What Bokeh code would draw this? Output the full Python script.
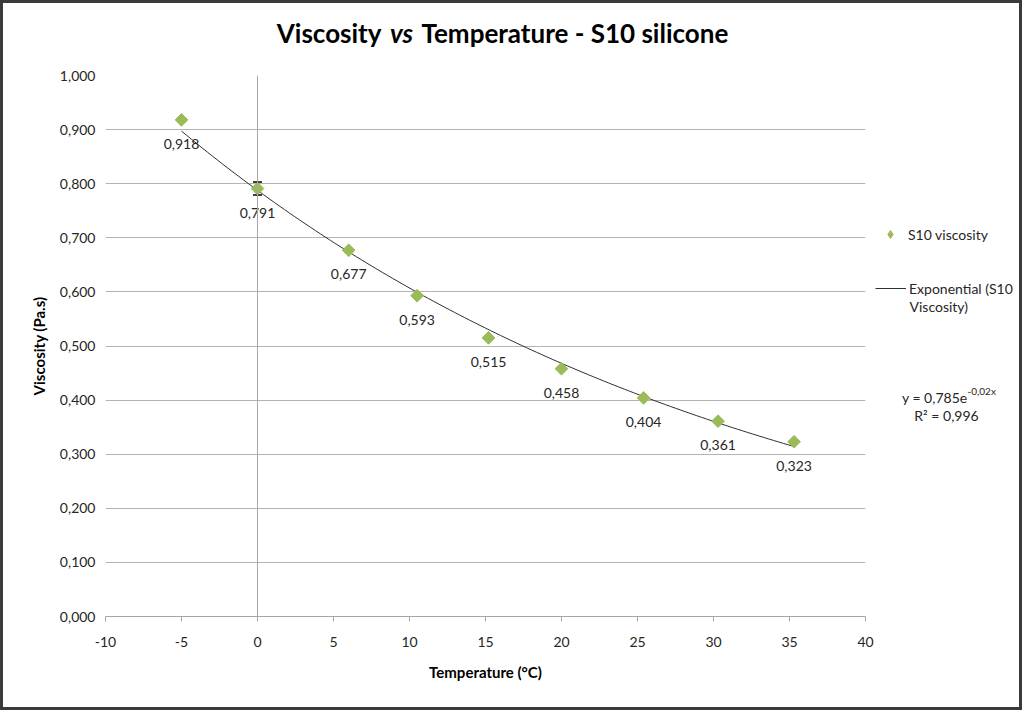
import numpy as np
from bokeh.plotting import figure
from bokeh.layouts import column, row
from bokeh.models import (Range1d, Span, Label, Legend, LegendItem, CustomJSTickFormatter,
                          FixedTicker, ColumnDataSource, Whisker, TeeHead)
from bokeh.embed import file_html
from bokeh.resources import INLINE
from bokeh.core.properties import value

# ---- data ----
temperature = [-5.0, 0.0, 6.0, 10.5, 15.2, 20.0, 25.4, 30.3, 35.3]
viscosity = [0.918, 0.791, 0.677, 0.593, 0.515, 0.458, 0.404, 0.361, 0.323]
point_labels = ["0,918", "0,791", "0,677", "0,593", "0,515", "0,458", "0,404", "0,361", "0,323"]
err_temperature = [0.0]
err_viscosity = [0.791]
err_size = [0.012]
x_ticks = [-10, -5, 0, 5, 10, 15, 20, 25, 30, 35, 40]
y_ticks = [0.0, 0.1, 0.2, 0.3, 0.4, 0.5, 0.6, 0.7, 0.8, 0.9, 1.0]

FONT = "Lato"
TXT = "#262626"
GREEN = "#9bbb59"

# exponential trend line (least squares on log values, like a spreadsheet trendline)
b, ln_a = np.polyfit(np.array(temperature), np.log(np.array(viscosity)), 1)
fit_x = np.linspace(min(temperature), max(temperature), 120)
fit_y = np.exp(ln_a) * np.exp(b * fit_x)


def blank_fig(w, h, xr, yr):
    f = figure(width=w, height=h, output_backend="svg", toolbar_location=None,
               x_range=Range1d(*xr), y_range=Range1d(*yr),
               x_axis_location=None, y_axis_location=None,
               min_border=0, min_border_left=0, min_border_right=0,
               min_border_top=0, min_border_bottom=0,
               background_fill_color="white", border_fill_color="white")
    f.grid.visible = False
    f.outline_line_color = None
    return f


# ---------------- title strip (page pixel coordinates) ----------------
TW, TH = 1016, 57
tfig = blank_fig(TW, TH, (3, 3 + TW), (3 + TH, 3))


def tlabel(text, x, y, align, style):
    tfig.add_layout(Label(x=x, y=y, text=text, text_align=align, text_baseline="middle",
                          text_font=FONT, text_font_size="26px", text_font_style=style,
                          text_color="black"))


tlabel("Viscosity", 381, 32, "right", "bold")
tlabel("vs", 401, 32, "center", "bold italic")
tlabel("Temperature - S10 silicone", 421, 32, "left", "bold")

# ---------------- main chart ----------------
MW, MH = 871, 647
p = figure(width=MW, height=MH, output_backend="svg", toolbar_location=None,
           x_range=Range1d(-10, 40), y_range=Range1d(0, 1),
           min_border_left=102, min_border_right=MW - 102 - 760,
           min_border_top=15, min_border_bottom=MH - 15 - 541,
           background_fill_color="white", border_fill_color="white")
p.outline_line_color = None

p.xgrid.grid_line_color = None
p.ygrid.grid_line_color = "#b4b4b4"
p.ygrid.ticker = FixedTicker(ticks=y_ticks)

p.xaxis.ticker = FixedTicker(ticks=x_ticks)
p.xaxis.formatter = CustomJSTickFormatter(code="return String(tick);")
p.xaxis.axis_line_color = "#a6a6a6"
p.xaxis.major_tick_line_color = "#a6a6a6"
p.xaxis.major_tick_out = 5
p.xaxis.major_tick_in = 0
p.xaxis.minor_tick_line_color = None
p.xaxis.major_label_text_font = FONT
p.xaxis.major_label_text_font_size = "14px"
p.xaxis.major_label_text_color = TXT
p.xaxis.major_label_standoff = 15
p.xaxis.axis_label = "Temperature (°C)"
p.xaxis.axis_label_text_font = FONT
p.xaxis.axis_label_text_font_size = "15px"
p.xaxis.axis_label_text_font_style = "bold"
p.xaxis.axis_label_text_color = "black"
p.xaxis.axis_label_standoff = 13

p.yaxis.ticker = FixedTicker(ticks=y_ticks)
p.yaxis.formatter = CustomJSTickFormatter(code="return tick.toFixed(3).replace('.', ',');")
p.yaxis.axis_line_color = None
p.yaxis.major_tick_line_color = None
p.yaxis.minor_tick_line_color = None
p.yaxis.major_tick_out = 0
p.yaxis.major_label_text_font = FONT
p.yaxis.major_label_text_font_size = "14px"
p.yaxis.major_label_text_color = TXT
p.yaxis.major_label_standoff = 10
p.yaxis.axis_label = "Viscosity (Pa.s)"
p.yaxis.axis_label_text_font = FONT
p.yaxis.axis_label_text_font_size = "15px"
p.yaxis.axis_label_text_font_style = "bold"
p.yaxis.axis_label_text_color = "black"
p.yaxis.axis_label_standoff = 9

# vertical axis line crossing at x = 0
p.add_layout(Span(location=0, dimension="height", line_color="#a6a6a6", line_width=1))

trend = p.line(fit_x, fit_y, line_color="#303030", line_width=1)

err_src = ColumnDataSource(dict(x=err_temperature,
                                upper=[v + e for v, e in zip(err_viscosity, err_size)],
                                lower=[v - e for v, e in zip(err_viscosity, err_size)]))
p.add_layout(Whisker(source=err_src, base="x", upper="upper", lower="lower", dimension="height",
                     line_color="black", line_width=1.5,
                     upper_head=TeeHead(size=9, line_color="black", line_width=1.5),
                     lower_head=TeeHead(size=9, line_color="black", line_width=1.5)))

src = ColumnDataSource(dict(x=temperature, y=viscosity, lab=point_labels))
pts = p.scatter("x", "y", source=src, marker="square", angle=np.pi / 4, size=9,
                fill_color=GREEN, line_color=GREEN)
p.text("x", "y", text="lab", source=src, text_align="center", text_baseline="middle",
       y_offset=24, text_font=value(FONT), text_font_size="14px", text_color=TXT)

# ---------------- right strip: legend and trendline equation ----------------
# the row aligns this strip's frame with the chart's frame (page y 75..616)
SW = 1016 - MW
FRAME_TOP, FRAME_BOTTOM = 75, 616
X0 = 3 + MW
side = blank_fig(SW, MH, (X0, X0 + SW), (FRAME_BOTTOM, FRAME_TOP))

# legend proxies: one sample each, placed outside the visible strip
proxy = ColumnDataSource(dict(x=[-1e6], y=[-1e6]))
leg_pts = side.scatter("x", "y", source=proxy, marker="diamond", size=11,
                       fill_color=GREEN, line_color=GREEN)
leg_line = side.line("x", "y", source=proxy, line_color="#303030", line_width=1)


def legend_at(item_label, rend, left_px, center_py, gw, standoff):
    top = center_py - 10
    lg = Legend(items=[LegendItem(label=item_label, renderers=[rend])],
                location=(left_px - X0, FRAME_BOTTOM - top - 20), padding=0, margin=0,
                border_line_color=None, background_fill_alpha=0,
                label_standoff=standoff, glyph_width=gw, glyph_height=20,
                label_height=20, spacing=0,
                label_text_font=FONT, label_text_font_size="14px", label_text_color=TXT)
    side.add_layout(lg)


legend_at("S10 viscosity", leg_pts, 880, 234, 20, 8)
legend_at("Exponential (S10", leg_line, 875, 288, 31, 3)


def slabel(text, x, y, align="left", size="14px"):
    side.add_layout(Label(x=x, y=y, text=text, text_align=align, text_baseline="middle",
                          text_font=FONT, text_font_size=size, text_color=TXT))


slabel("Viscosity)", 909, 306)
slabel("y = 0,785e", 967, 397, align="right")
slabel("-0,02x", 967, 390, size="10px")
slabel("R² = 0,996", 946, 415, align="center")

layout = column(tfig, row(p, side, spacing=0), spacing=0)
layout.styles = {"border": "3px solid #3a3a3a"}

open("out.html", "w").write(file_html(layout, INLINE))
